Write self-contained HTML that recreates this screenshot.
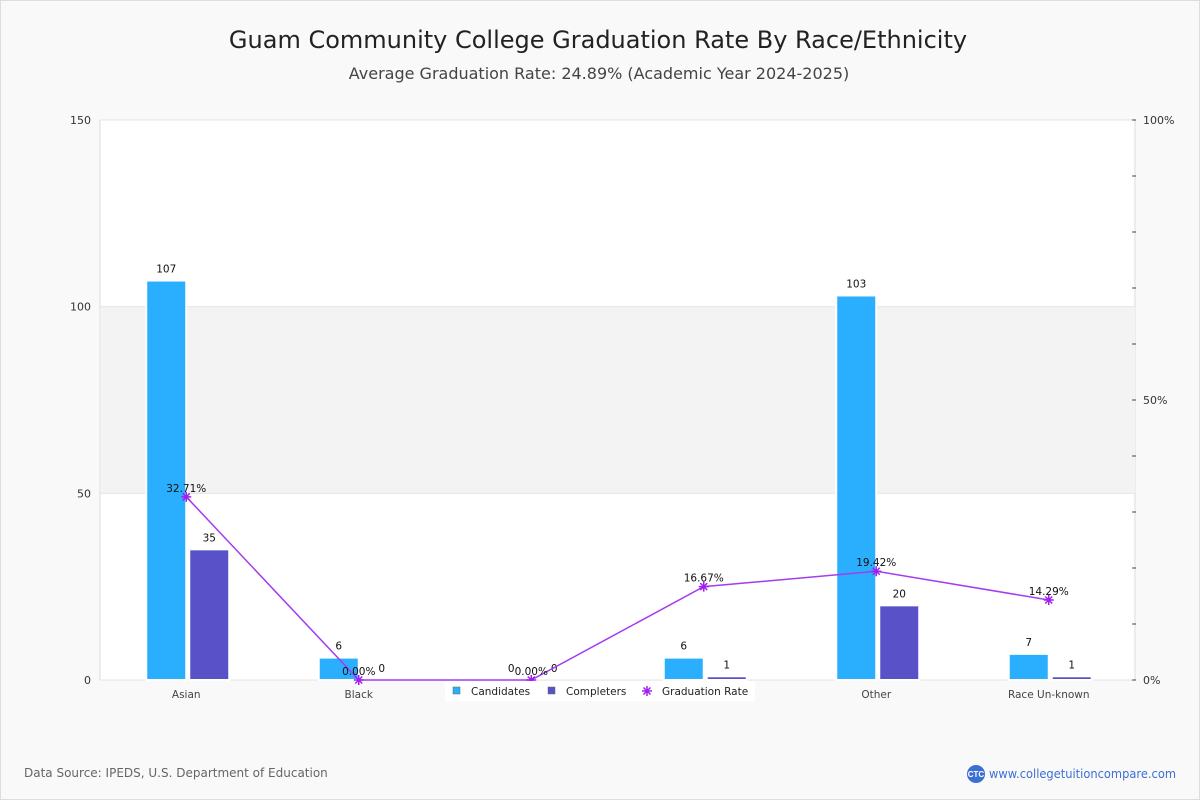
<!DOCTYPE html>
<html><head><meta charset="utf-8"><style>
body{margin:0;background:#fff;font-family:"Liberation Sans","DejaVu Sans",sans-serif}
#wrap{width:1198px;height:798px;border:1px solid #ddd;background:#f9f9f9;position:relative}
</style></head><body>
<div id="wrap">
<svg id="svg" width="1200" height="800" style="position:absolute;left:-1px;top:-1px">
<text x="598" y="48" text-anchor="middle" font-size="24" fill="#222" font-family="DejaVu Sans, sans-serif">Guam Community College Graduation Rate By Race/Ethnicity</text>
<text x="599" y="79" text-anchor="middle" font-size="16" fill="#444" font-family="DejaVu Sans, sans-serif">Average Graduation Rate: 24.89% (Academic Year 2024-2025)</text>
<rect x="100" y="120" width="1035" height="560" fill="#fff" stroke="#ddd"/>
<rect x="101" y="307" width="1034" height="186" fill="#f3f3f3"/>
<g id="g"></g>
<text x="24" y="777" font-size="12" fill="#666" font-family="DejaVu Sans, sans-serif">Data Source: IPEDS, U.S. Department of Education</text>
<circle cx="976" cy="774" r="9" fill="#3b6fd4"/>
<text x="976" y="777" text-anchor="middle" font-size="8" fill="#fff" font-weight="bold">CTC</text>
<text x="989" y="778" font-size="12" textLength="187" lengthAdjust="spacingAndGlyphs" fill="#3b6fd4" font-family="DejaVu Sans, sans-serif">www.collegetuitioncompare.com</text>
</svg></div>
<script>
const categories=["Asian","Black","Native Hawaiian","Hispanic","Other","Race Un-known"];
const candidates=[107,6,0,6,103,7];
const completers=[35,0,0,1,20,1];
const rates=[32.71,0,0,16.67,19.42,14.29];
const leftTicks=[0,50,100,150];
const rightTicks=[0,50,100];
const NS="http://www.w3.org/2000/svg",g=document.getElementById("g");
const X0=100,W=1035,Y0=680,H=560;
const yL=v=>Y0-v/150*H, yR=v=>Y0-v/100*H, xC=i=>X0+W/6*(i+0.5);
function el(t,a,txt){const e=document.createElementNS(NS,t);for(const k in a)e.setAttribute(k,a[k]);if(txt!==undefined)e.textContent=txt;g.appendChild(e);return e;}
const F="DejaVu Sans, sans-serif";
function star(x,y){
const s=el("path",{d:`M${x-5},${y}H${x+5}M${x},${y-5}V${y+5}M${x-3.5},${y-3.5}L${x+3.5},${y+3.5}M${x-3.5},${y+3.5}L${x+3.5},${y-3.5}`,stroke:"#a020f0","stroke-width":1.5});
return s;}
leftTicks.forEach(v=>{
const l=el("line",{x1:X0,x2:1135,y1:yL(v),y2:yL(v),stroke:"#e4e4e4"});


const t=el("text",{x:91,y:yL(v)+4,"text-anchor":"end","font-size":11,fill:"#333","font-family":F},v);


});
for(let v=0;v<=100;v+=10){
const l=el("line",{x1:1132,x2:1136,y1:yR(v),y2:yR(v),stroke:"#444"});


}
rightTicks.forEach(v=>{
const t=el("text",{x:1143,y:yR(v)+4,"font-size":11,fill:"#333","font-family":F},v+"%");


});
categories.forEach((c,i)=>{
const cx=xC(i);
const b1=el("rect",{x:cx-40,y:yL(candidates[i]),width:40,height:Y0-yL(candidates[i]),fill:"#2aaefe",stroke:"#fff","stroke-width":2});


const b2=el("rect",{x:cx+3,y:yL(completers[i]),width:40,height:Y0-yL(completers[i]),fill:"#5851c8",stroke:"#fff","stroke-width":2});


const t1=el("text",{x:cx-20,y:yL(candidates[i])-8,"text-anchor":"middle","font-size":10.5,fill:"#111","font-family":F},candidates[i]);


const t2=el("text",{x:cx+23,y:yL(completers[i])-8,"text-anchor":"middle","font-size":10.5,fill:"#111","font-family":F},completers[i]);


const xl=el("text",{x:cx,y:698,"text-anchor":"middle","font-size":10.5,fill:"#444","font-family":F},c);


});
const pl=el("polyline",{points:rates.map((r,i)=>xC(i)+","+yR(r)).join(" "),fill:"none",stroke:"#a33cf0","stroke-width":1.5});


rates.forEach((r,i)=>{
const x=xC(i),y=yR(r);
const m=star(x,y);


const t=el("text",{x:x,y:y-5,"text-anchor":"middle","font-size":10.5,fill:"#111","font-family":F},r.toFixed(2)+"%");


});
const lg=el("rect",{x:445,y:681,width:310,height:20,fill:"#fff"});


[["Candidates","#2aaefe",453],["Completers","#5851c8",548]].forEach(([n,c,x])=>{
const s=el("rect",{x:x,y:687,width:7,height:7,fill:c,stroke:"#666","stroke-width":0.5});


const t=el("text",{x:x+18,y:695,"font-size":10.5,fill:"#222","font-family":F},n);


});
const ls=star(647,691);


const lt=el("text",{x:662,y:695,"font-size":10.5,fill:"#222","font-family":F},"Graduation Rate");


</script>
</body></html>
